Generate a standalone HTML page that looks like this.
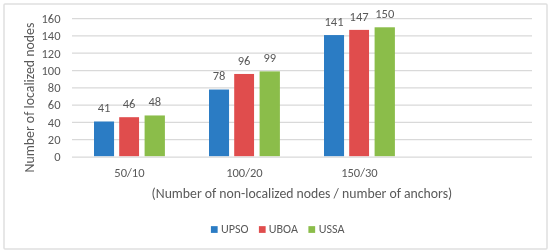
<!DOCTYPE html>
<html><head><meta charset="utf-8"><style>
html,body{margin:0;padding:0;background:#fff;}
svg{display:block;}
.t{font-family:Carlito,"Liberation Sans",sans-serif;font-size:12.5px;fill:#595959;}
.at{font-size:13.75px;}
.lg{font-size:12.1px;}
</style></head><body>
<svg width="550" height="252" viewBox="0 0 550 252">
<rect x="4" y="4" width="543" height="245" rx="1" fill="#fff" stroke="#e0e0e0" stroke-width="1.5"/>
<line x1="72" x2="532" y1="139.66" y2="139.66" stroke="#d9d9d9" stroke-width="1.25"/>
<line x1="72" x2="532" y1="122.37" y2="122.37" stroke="#d9d9d9" stroke-width="1.25"/>
<line x1="72" x2="532" y1="105.09" y2="105.09" stroke="#d9d9d9" stroke-width="1.25"/>
<line x1="72" x2="532" y1="87.80" y2="87.80" stroke="#d9d9d9" stroke-width="1.25"/>
<line x1="72" x2="532" y1="70.51" y2="70.51" stroke="#d9d9d9" stroke-width="1.25"/>
<line x1="72" x2="532" y1="53.22" y2="53.22" stroke="#d9d9d9" stroke-width="1.25"/>
<line x1="72" x2="532" y1="35.94" y2="35.94" stroke="#d9d9d9" stroke-width="1.25"/>
<line x1="72" x2="532" y1="18.65" y2="18.65" stroke="#d9d9d9" stroke-width="1.25"/>
<text x="60.5" y="161.25" text-anchor="end" class="t" textLength="6.34" lengthAdjust="spacingAndGlyphs">0</text>
<text x="60.5" y="143.96" text-anchor="end" class="t" textLength="12.67" lengthAdjust="spacingAndGlyphs">20</text>
<text x="60.5" y="126.67" text-anchor="end" class="t" textLength="12.67" lengthAdjust="spacingAndGlyphs">40</text>
<text x="60.5" y="109.39" text-anchor="end" class="t" textLength="12.67" lengthAdjust="spacingAndGlyphs">60</text>
<text x="60.5" y="92.10" text-anchor="end" class="t" textLength="12.67" lengthAdjust="spacingAndGlyphs">80</text>
<text x="60.5" y="74.81" text-anchor="end" class="t" textLength="19.02" lengthAdjust="spacingAndGlyphs">100</text>
<text x="60.5" y="57.52" text-anchor="end" class="t" textLength="19.02" lengthAdjust="spacingAndGlyphs">120</text>
<text x="60.5" y="40.24" text-anchor="end" class="t" textLength="19.02" lengthAdjust="spacingAndGlyphs">140</text>
<text x="60.5" y="22.95" text-anchor="end" class="t" textLength="19.02" lengthAdjust="spacingAndGlyphs">160</text>
<rect x="94.00" y="121.51" width="20.05" height="34.79" fill="#2B7CC4"/>
<text x="104.03" y="112.21" text-anchor="middle" class="t" textLength="12.67" lengthAdjust="spacingAndGlyphs">41</text>
<rect x="119.20" y="117.19" width="19.85" height="39.11" fill="#E04D4D"/>
<text x="129.12" y="107.89" text-anchor="middle" class="t" textLength="12.67" lengthAdjust="spacingAndGlyphs">46</text>
<rect x="144.60" y="115.46" width="20.30" height="40.84" fill="#8BBD4A"/>
<text x="154.75" y="106.16" text-anchor="middle" class="t" textLength="12.67" lengthAdjust="spacingAndGlyphs">48</text>
<text x="129.45" y="176.8" text-anchor="middle" class="t" textLength="30.17" lengthAdjust="spacingAndGlyphs">50/10</text>
<rect x="209.00" y="89.53" width="20.05" height="66.77" fill="#2B7CC4"/>
<text x="219.03" y="80.23" text-anchor="middle" class="t" textLength="12.67" lengthAdjust="spacingAndGlyphs">78</text>
<rect x="234.20" y="73.97" width="19.85" height="82.33" fill="#E04D4D"/>
<text x="244.12" y="64.67" text-anchor="middle" class="t" textLength="12.67" lengthAdjust="spacingAndGlyphs">96</text>
<rect x="259.60" y="71.38" width="20.30" height="84.92" fill="#8BBD4A"/>
<text x="269.75" y="62.08" text-anchor="middle" class="t" textLength="12.67" lengthAdjust="spacingAndGlyphs">99</text>
<text x="244.45" y="176.8" text-anchor="middle" class="t" textLength="36.52" lengthAdjust="spacingAndGlyphs">100/20</text>
<rect x="324.00" y="35.07" width="20.05" height="121.23" fill="#2B7CC4"/>
<text x="334.02" y="25.77" text-anchor="middle" class="t" textLength="19.02" lengthAdjust="spacingAndGlyphs">141</text>
<rect x="349.20" y="29.89" width="19.85" height="126.41" fill="#E04D4D"/>
<text x="359.12" y="20.59" text-anchor="middle" class="t" textLength="19.02" lengthAdjust="spacingAndGlyphs">147</text>
<rect x="374.60" y="27.29" width="20.30" height="129.01" fill="#8BBD4A"/>
<text x="384.75" y="17.99" text-anchor="middle" class="t" textLength="19.02" lengthAdjust="spacingAndGlyphs">150</text>
<text x="359.45" y="176.8" text-anchor="middle" class="t" textLength="36.52" lengthAdjust="spacingAndGlyphs">150/30</text>
<line x1="72" x2="532" y1="157.2" y2="157.2" stroke="#d9d9d9" stroke-width="1.3"/>
<text x="301.9" y="197.7" text-anchor="middle" class="t at" textLength="300.59" lengthAdjust="spacingAndGlyphs">(Number of non-localized nodes / number of anchors)</text>
<text transform="translate(34.3 97.6) rotate(-90)" text-anchor="middle" class="t at" style="font-size:13.85px" textLength="149.9" lengthAdjust="spacingAndGlyphs">Number of localized nodes</text>
<rect x="210.9" y="226.15" width="6.75" height="6.75" fill="#2B7CC4"/>
<text x="220.9" y="233.4" class="t lg" textLength="27.58" lengthAdjust="spacingAndGlyphs">UPSO</text>
<rect x="258.9" y="226.15" width="6.75" height="6.75" fill="#E04D4D"/>
<text x="268.7" y="233.4" class="t lg" textLength="29.22" lengthAdjust="spacingAndGlyphs">UBOA</text>
<rect x="308.4" y="226.15" width="6.75" height="6.75" fill="#8BBD4A"/>
<text x="318.8" y="233.4" class="t lg" textLength="25.8" lengthAdjust="spacingAndGlyphs">USSA</text>
</svg>
</body></html>
